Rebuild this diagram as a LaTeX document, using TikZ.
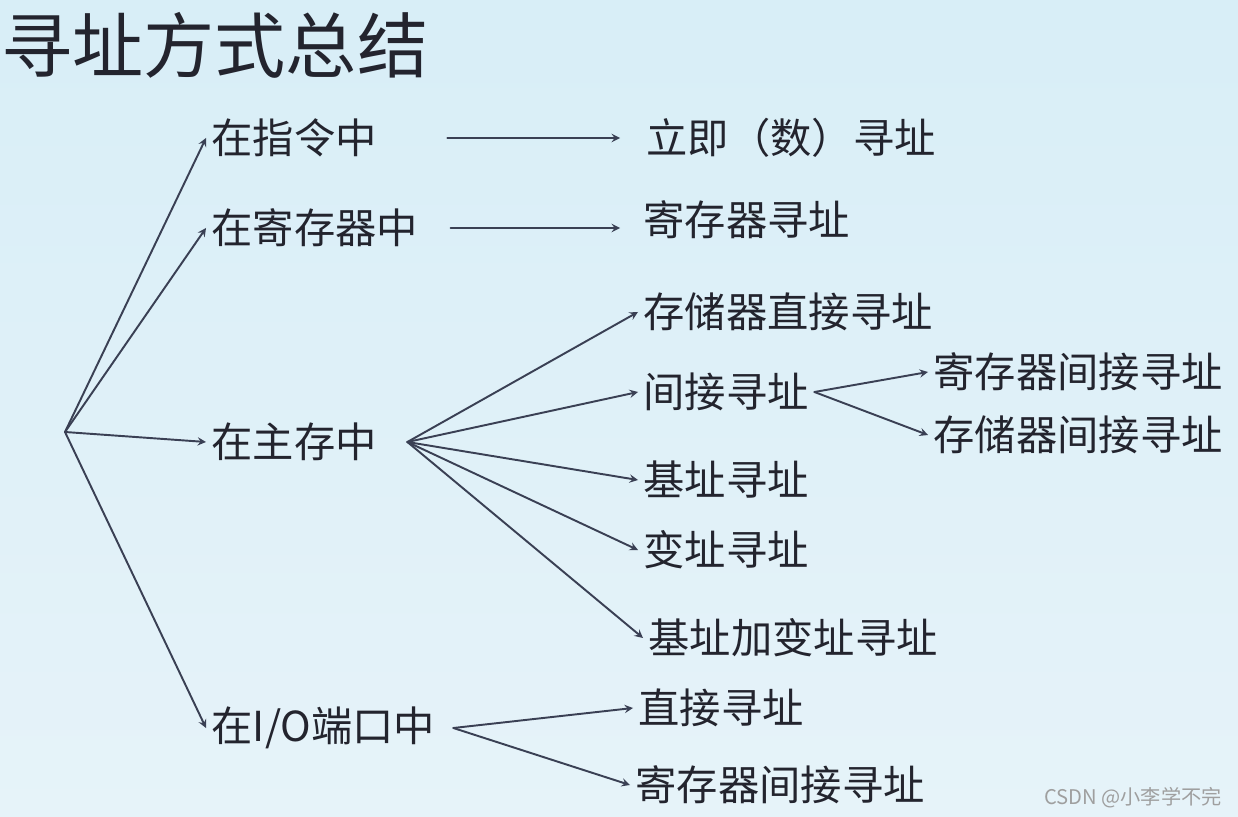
\documentclass[tikz,border=0pt]{standalone}
\usepackage{fontspec}
\setmainfont{Noto Sans CJK SC}
\definecolor{inkc}{HTML}{23242E}
\definecolor{linec}{HTML}{3A4054}
\definecolor{bgtop}{HTML}{D8EEF7}
\definecolor{bgbot}{HTML}{E6F3F9}
\begin{document}
\begin{tikzpicture}[x=0.02cm, y=-0.02cm, line join=round, line cap=round, >=stealth]
			\tikzset{
				mode/.style={anchor=west, inner sep=3pt, text=inkc, font=\fontsize{23.5}{26}\selectfont},
				link/.style={->, draw=linec, line width=1.1pt}
			}
			\shade[top color=bgtop, bottom color=bgbot] (0,0) rectangle (1238,817);
			\useasboundingbox (0,0) rectangle (1238,817);
			\node[anchor=west, inner sep=0, text=inkc, font=\fontsize{40.5}{46}\selectfont] (title) at (1,45) {寻址方式总结};
			\path (65,432) coordinate (root);
			% first level
			\node[mode] (zl) at (206,138) {在指令中};
			\node[mode] (jcq) at (206,228) {在寄存器中};
			\node[mode] (zc) at (206,442) {在主存中};
			\node[mode] (io) at (206,728) {在I/O端口中};
			% second level
			\node[mode] (ljs) at (641,138) {立即（数）寻址};
			\node[mode] (jcqxz) at (638,220) {寄存器寻址};
			\node[mode] (ccqzj) at (638,312) {存储器直接寻址};
			\node[mode] (jj) at (638,392) {间接寻址};
			\node[mode] (jz) at (638,480) {基址寻址};
			\node[mode] (bz) at (638,550) {变址寻址};
			\node[mode] (jbz) at (643,638) {基址加变址寻址};
			\node[mode] (jcqjj) at (928,372) {寄存器间接寻址};
			\node[mode] (ccqjj) at (928,435) {存储器间接寻址};
			\node[mode] (iozj) at (633,708) {直接寻址};
			\node[mode] (iojj) at (630,785) {寄存器间接寻址};
			\node[anchor=east, inner sep=0, text=gray!75, font=\fontsize{11.5}{13}\selectfont] (wm) at (1222,798) {CSDN @小李学不完};
			\path
			([xshift=0.5cm]zc.east) coordinate (zcR)
			([xshift=0.25cm]io.east) coordinate (ioR)
			;
			\foreach \t in {zl,jcq,zc,io}
			\draw[link] (root) -- (\t.west);
			\draw[link, shorten <=1.3cm, shorten >=0.42cm] (zl.east) -- (zl.east -| ljs.west);
			\draw[link, shorten <=0.54cm, shorten >=0.36cm] (jcq.east) -- (jcq.east -| jcqxz.west);
			\foreach \t in {ccqzj,jj,jz,bz,jbz}
			\draw[link] (zcR) -- (\t.west);
			\foreach \t in {jcqjj,ccqjj}
			\draw[link] (jj.east) -- (\t.west);
			\foreach \t in {iozj,iojj}
			\draw[link] (ioR) -- (\t.west);
			\end{tikzpicture}
\end{document}
